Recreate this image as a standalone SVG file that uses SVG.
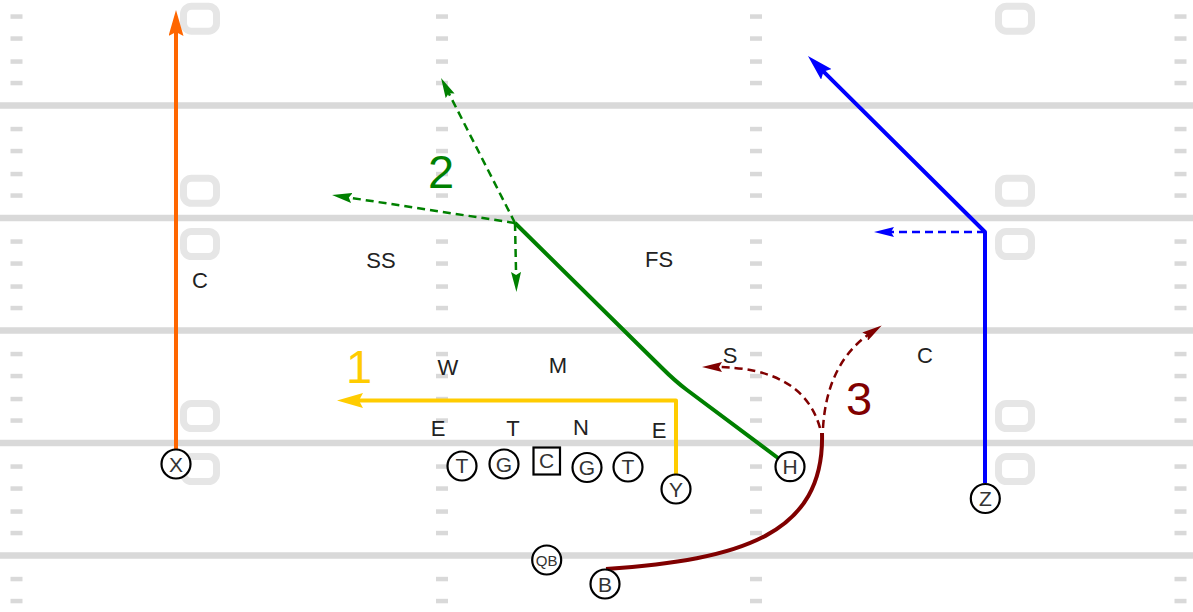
<svg xmlns="http://www.w3.org/2000/svg" xmlns:xlink="http://www.w3.org/1999/xlink" width="1193" height="612" viewBox="0 0 1193 612">
<style>
.yl{stroke:#d9d9d9;stroke-width:6.5;fill:none}
.hs{fill:#d9d9d9}
.zero{fill:none;stroke:#e6e6e6;stroke-width:7}
.node circle,.node rect{fill:#fff;stroke:#000;stroke-width:2.2}
.node text{font-family:"Liberation Sans",Arial,sans-serif;font-size:21px;fill:#333;text-anchor:middle}
.def{font-family:"Liberation Sans",Arial,sans-serif;font-size:22px;fill:#222;text-anchor:middle}
.num{font-family:"Liberation Sans",Arial,sans-serif;font-size:47px;text-anchor:middle}
.solid{fill:none;stroke-width:4;stroke-linejoin:round}
.dash{fill:none;stroke-width:2.5;stroke-dasharray:8,5}
</style>
<defs>
<rect id="z0" class="zero" x="-16.5" y="-12.5" width="33" height="25" rx="8"/>
<g id="hcol">
<rect class="hs" x="0" y="14.3" width="12" height="4.5"/>
<rect class="hs" x="0" y="36.3" width="12" height="4.5"/>
<rect class="hs" x="0" y="59.3" width="12" height="4.5"/>
<rect class="hs" x="0" y="80.8" width="12" height="4.5"/>
<rect class="hs" x="0" y="126.8" width="12" height="4.5"/>
<rect class="hs" x="0" y="148.8" width="12" height="4.5"/>
<rect class="hs" x="0" y="171.8" width="12" height="4.5"/>
<rect class="hs" x="0" y="193.3" width="12" height="4.5"/>
<rect class="hs" x="0" y="239.3" width="12" height="4.5"/>
<rect class="hs" x="0" y="261.3" width="12" height="4.5"/>
<rect class="hs" x="0" y="284.3" width="12" height="4.5"/>
<rect class="hs" x="0" y="305.8" width="12" height="4.5"/>
<rect class="hs" x="0" y="351.8" width="12" height="4.5"/>
<rect class="hs" x="0" y="373.8" width="12" height="4.5"/>
<rect class="hs" x="0" y="396.8" width="12" height="4.5"/>
<rect class="hs" x="0" y="418.3" width="12" height="4.5"/>
<rect class="hs" x="0" y="464.3" width="12" height="4.5"/>
<rect class="hs" x="0" y="486.3" width="12" height="4.5"/>
<rect class="hs" x="0" y="509.3" width="12" height="4.5"/>
<rect class="hs" x="0" y="530.8" width="12" height="4.5"/>
<rect class="hs" x="0" y="576.8" width="12" height="4.5"/>
<rect class="hs" x="0" y="598.8" width="12" height="4.5"/>
</g>
<marker id="aOr" markerUnits="userSpaceOnUse" markerWidth="26" markerHeight="15" refX="10" refY="7.5" orient="auto"><path d="M0,0 L26,7.5 L0,15 L4,7.5 z" fill="#ff6600"/></marker>
<marker id="aYe" markerUnits="userSpaceOnUse" markerWidth="26" markerHeight="15" refX="10" refY="7.5" orient="auto"><path d="M0,0 L26,7.5 L0,15 L4,7.5 z" fill="#ffcc00"/></marker>
<marker id="aBl" markerUnits="userSpaceOnUse" markerWidth="26" markerHeight="15" refX="10" refY="7.5" orient="auto"><path d="M0,0 L26,7.5 L0,15 L4,7.5 z" fill="#0000ff"/></marker>
<marker id="dBl" markerUnits="userSpaceOnUse" markerWidth="20" markerHeight="10" refX="8" refY="5" orient="auto"><path d="M0,0 L20,5 L0,10 L3,5 z" fill="#0000ff"/></marker>
<marker id="dGr" markerUnits="userSpaceOnUse" markerWidth="20" markerHeight="10" refX="8" refY="5" orient="auto"><path d="M0,0 L20,5 L0,10 L3,5 z" fill="#008000"/></marker>
<marker id="dMa" markerUnits="userSpaceOnUse" markerWidth="20" markerHeight="10" refX="8" refY="5" orient="auto"><path d="M0,0 L20,5 L0,10 L3,5 z" fill="#800000"/></marker>
</defs>
<rect x="0" y="0" width="1193" height="612" fill="#fff"/>
<g id="field">
<line class="yl" x1="0" y1="105.5" x2="1193" y2="105.5"/>
<line class="yl" x1="0" y1="218" x2="1193" y2="218"/>
<line class="yl" x1="0" y1="330.5" x2="1193" y2="330.5"/>
<line class="yl" x1="0" y1="443" x2="1193" y2="443"/>
<line class="yl" x1="0" y1="555.5" x2="1193" y2="555.5"/>
<use xlink:href="#hcol" x="10.5"/>
<use xlink:href="#hcol" x="436"/>
<use xlink:href="#hcol" x="750"/>
<use xlink:href="#hcol" x="1174.5"/>
<use xlink:href="#z0" x="200" y="18.7"/>
<use xlink:href="#z0" x="200" y="190.8"/>
<use xlink:href="#z0" x="200" y="244"/>
<use xlink:href="#z0" x="200" y="416"/>
<use xlink:href="#z0" x="200" y="469"/>
<use xlink:href="#z0" x="1015" y="18.7"/>
<use xlink:href="#z0" x="1015" y="190.8"/>
<use xlink:href="#z0" x="1015" y="244"/>
<use xlink:href="#z0" x="1015" y="416"/>
<use xlink:href="#z0" x="1015" y="469"/>
</g>
<g id="defense">
<text class="def" x="200" y="288">C</text>
<text class="def" x="381" y="268">SS</text>
<text class="def" x="659" y="267">FS</text>
<text class="def" x="448" y="375">W</text>
<text class="def" x="558" y="373">M</text>
<text class="def" x="730" y="363">S</text>
<text class="def" x="925" y="363">C</text>
<text class="def" x="438" y="436">E</text>
<text class="def" x="513" y="436">T</text>
<text class="def" x="581" y="435">N</text>
<text class="def" x="659" y="438">E</text>
</g>
<g id="connectors">
<path class="solid" stroke="#ff6600" stroke-width="4.5" d="M176,449 L176,26" marker-end="url(#aOr)"/>
<path class="solid" stroke="#ffcc00" d="M676,474 L676,400.5 L353,400.5" marker-end="url(#aYe)"/>
<path class="solid" stroke="#008000" stroke-width="3.5" d="M778,458 L687,390 Q675,381 662,368 L515,223"/>
<path class="dash" stroke="#008000" d="M515,223 L446.5,88.7" marker-end="url(#dGr)"/>
<path class="dash" stroke="#008000" d="M515,223 L343.9,196.8" marker-end="url(#dGr)"/>
<path class="dash" stroke="#008000" d="M515,223 L516.2,280" marker-end="url(#dGr)"/>
<path class="solid" stroke="#0000ff" d="M985,483 L985,232 L819.3,67.3" marker-end="url(#aBl)"/>
<path class="dash" stroke="#0000ff" d="M985,232 L886,232" marker-end="url(#dBl)"/>
<path class="solid" stroke="#800000" d="M606,569 C740,560 825,535 822,433"/>
<path class="dash" stroke="#800000" stroke-dasharray="9,6" d="M820,428 Q803,367 714,367" marker-end="url(#dMa)"/>
<path class="dash" stroke="#800000" stroke-dasharray="9,6" d="M823,428 Q827,362 871.7,332.2" marker-end="url(#dMa)"/>
</g>
<text class="num" x="359" y="383" fill="#ffcc00">1</text>
<text class="num" x="441" y="188" fill="#008000">2</text>
<text class="num" x="859" y="415" fill="#800000">3</text>
<g id="node-X" class="node"><circle cx="176" cy="464" r="14.5"/><text x="176" y="471.5">X</text></g>
<g id="node-LT" class="node"><circle cx="462" cy="466" r="14.5"/><text x="462" y="472.5">T</text></g>
<g id="node-LG" class="node"><circle cx="504" cy="464" r="14.5"/><text x="504" y="471.5">G</text></g>
<g id="node-C" class="node"><rect x="533.5" y="447.5" width="26.5" height="27" stroke-width="2.5"/><text x="546.7" y="467.5">C</text></g>
<g id="node-RG" class="node"><circle cx="587" cy="467.5" r="14.5"/><text x="587" y="475">G</text></g>
<g id="node-RT" class="node"><circle cx="628" cy="467" r="14.5"/><text x="628" y="473.5">T</text></g>
<g id="node-Y" class="node"><circle cx="676" cy="489" r="14.5"/><text x="676" y="496.5">Y</text></g>
<g id="node-H" class="node"><circle cx="790" cy="466.7" r="14.5"/><text x="790" y="474.2">H</text></g>
<g id="node-Z" class="node"><circle cx="985.3" cy="498.5" r="14.5"/><text x="985.3" y="506">Z</text></g>
<g id="node-QB" class="node"><circle cx="546.7" cy="560" r="14.5"/><text x="546.7" y="565.5" style="font-size:15px">QB</text></g>
<g id="node-B" class="node"><circle cx="605" cy="584" r="14.5"/><text x="605" y="591.5">B</text></g>
</svg>
